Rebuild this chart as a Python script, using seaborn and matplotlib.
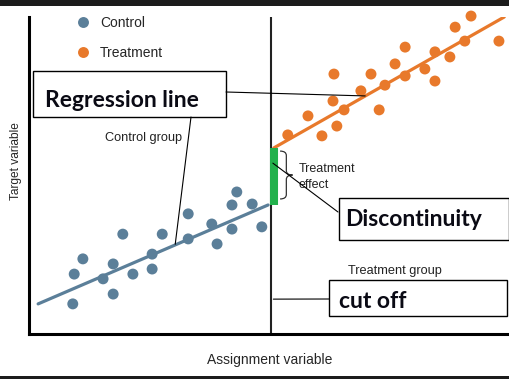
import numpy as np
import pandas as pd
import matplotlib
matplotlib.use('Agg')
import matplotlib.pyplot as plt
from matplotlib.patches import Rectangle, PathPatch, ConnectionPatch
from matplotlib.path import Path
import seaborn as sns

sns.set_style('white')
plt.rcParams['font.family'] = ['Liberation Sans', 'DejaVu Sans']

# Data: assignment variable vs target variable (0-10 scale)
control_x = [0.91, 0.94, 1.12, 1.54, 1.75, 1.75, 1.95, 2.16, 2.56, 2.56,
             2.77, 3.31, 3.31, 3.80, 3.91, 4.22, 4.22, 4.32, 4.64, 4.84]
control_y = [0.95, 1.89, 2.37, 1.74, 1.26, 2.21, 3.15, 1.89, 2.05, 2.52,
             3.15, 3.00, 3.79, 3.47, 2.84, 3.31, 4.07, 4.48, 4.10, 3.38]
treatment_x = [5.38, 5.80, 6.09, 6.40, 6.32, 6.34, 6.55, 6.90, 7.11, 7.28, 7.40,
               7.61, 7.82, 7.82, 8.23, 8.44, 8.44, 8.75, 8.86, 9.06, 9.19, 9.77]
treatment_y = [6.28, 6.88, 6.25, 6.56, 7.35, 8.20, 7.07, 7.67, 8.20, 7.07, 7.85,
               8.52, 8.14, 9.05, 8.36, 7.98, 8.90, 8.74, 9.68, 9.24, 10.03, 9.24]

# Regression line end points
control_line_x = [0.19, 4.97]
control_line_y = [0.95, 4.07]
treatment_line_x = [5.09, 9.88]
treatment_line_y = [5.87, 10.0]

cutoff = 5.03

blue = '#5b7f99'
orange = '#e8792b'
green = '#22b14c'

df = pd.DataFrame({
    'x': control_x + treatment_x,
    'y': control_y + treatment_y,
    'group': ['Control'] * len(control_x) + ['Treatment'] * len(treatment_x),
})

fig = plt.figure(figsize=(5.1, 3.79), dpi=100)
ax = fig.add_axes([29 / 510, 45 / 379, 481 / 510, 317 / 379])
ax.set_xlim(0, 10)
ax.set_ylim(0, 10)

# regression lines
sns.lineplot(x=control_line_x, y=control_line_y, color=blue, lw=2.3, ax=ax)
sns.lineplot(x=treatment_line_x, y=treatment_line_y, color=orange, lw=2.3, ax=ax)

# points
sns.scatterplot(data=df, x='x', y='y', hue='group', palette={'Control': blue, 'Treatment': orange},
                s=62, linewidth=0, ax=ax, zorder=3, clip_on=False)

# cutoff and discontinuity
ax.axvline(cutoff, color='#222222', lw=1.5, zorder=2)
ax.vlines(5.09, control_line_y[1], treatment_line_y[0], color=green, lw=5.8, zorder=4)

# brace next to the discontinuity
def brace(ax, x, y0, y1, w, d):
    ym = (y0 + y1) / 2
    h = x + w / 2
    verts = [(x, y1), (h, y1), (h, y1 - d), (h, ym + d), (h, ym), (x + w, ym),
             (h, ym), (h, ym - d), (h, y0 + d), (h, y0), (x, y0)]
    codes = [Path.MOVETO, Path.CURVE3, Path.CURVE3, Path.LINETO, Path.CURVE3, Path.CURVE3,
             Path.CURVE3, Path.CURVE3, Path.LINETO, Path.CURVE3, Path.CURVE3]
    ax.add_patch(PathPatch(Path(verts, codes), fill=False, lw=0.9, edgecolor='#333333', zorder=4))

brace(ax, 5.22, 4.26, 5.77, 0.26, 0.14)

sns.despine(ax=ax)
ax.spines['left'].set_linewidth(2.2)
ax.spines['bottom'].set_linewidth(2.2)
ax.spines['left'].set_color('black')
ax.spines['bottom'].set_color('black')
ax.set_xticks([])
ax.set_yticks([])
ax.set_xlabel('Assignment variable', fontsize=10)
ax.set_ylabel('Target variable', fontsize=8.6)
ax.xaxis.set_label_coords(0.5, -0.06)
ax.yaxis.set_label_coords(-0.015, 0.546)

sns.move_legend(ax, 'upper left', bbox_to_anchor=(76 / 510, 1 - 16 / 379),
                bbox_transform=fig.transFigure, frameon=False, title=None,
                fontsize=10, handlelength=1.0, handletextpad=0.72,
                labelspacing=1.12, borderpad=0, borderaxespad=0)
for h in ax.get_legend().legend_handles:
    h.set_markersize(np.sqrt(62))

# overlay in pixel coordinates for the callout boxes
ov = fig.add_axes([0, 0, 1, 1])
ov.set_xlim(0, 510)
ov.set_ylim(379, 0)
ov.axis('off')
ov.patch.set_visible(False)

ov.add_patch(Rectangle((0, 0), 510, 6, color='#1c1c1c', lw=0))
ov.add_patch(Rectangle((0, 376), 510, 3, color='#1c1c1c', lw=0))

boxes = [((33, 71), 193, 46, 'Regression line', 45, 107),
         ((339, 198), 170, 42, 'Discontinuity', 345, 226),
         ((329, 280), 178, 36, 'cut off', 339, 308)]
for (bx, by), bw, bh, label, tx, ty in boxes:
    ov.add_patch(Rectangle((bx, by), bw, bh, facecolor='white', edgecolor='black', lw=1.0))
    ov.text(tx, ty, label, fontsize=16.5, fontweight='bold', family=['Lato', 'DejaVu Sans'],
            color='#0a0a14', va='baseline', ha='left')

ov.text(105, 138, 'Control group', fontsize=9.2, va='center', ha='left', color='#222222')
ov.text(299, 177, 'Treatment\neffect', fontsize=9, va='center', ha='left', color='#222222',
        linespacing=1.45)
ov.text(348, 271, 'Treatment group', fontsize=9.2, va='center', ha='left', color='#222222')

# connectors
def connect(xy_px, xy_data):
    fig.add_artist(ConnectionPatch(xyA=xy_px, coordsA=ov.transData, xyB=xy_data,
                                   coordsB=ax.transData, lw=0.8, color='black'))

connect((226, 92), (6.99, 7.51))
connect((191, 117), (3.04, 2.83))
connect((338, 212), (5.07, 5.39))
connect((329, 299), (cutoff + 0.05, 1.10))

fig.savefig('out.png', dpi=100)
